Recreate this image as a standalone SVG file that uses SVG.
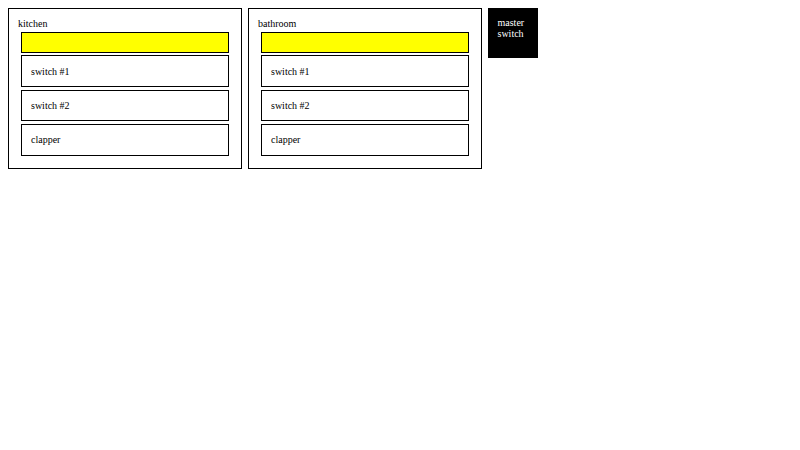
<svg xmlns="http://www.w3.org/2000/svg" width="800" height="450" viewBox="0 0 800 450">
<style>
.box{fill:#fff;stroke:#000;stroke-width:1}
.bar{fill:#ffff00;stroke:#000;stroke-width:1}
.t{font-family:"Liberation Serif","Times New Roman",serif;font-size:10px;fill:#000}
.w{font-family:"Liberation Serif","Times New Roman",serif;font-size:10px;fill:#fff}
</style>
<rect width="800" height="450" fill="#fff"/>
<g id="kitchen">
<rect class="box" x="8.5" y="8.5" width="233" height="160"/>
<text class="t" x="18" y="27">kitchen</text>
<rect class="bar" x="21.5" y="32.5" width="207" height="20"/>
<g id="kitchen-switch1"><rect class="box" x="21.5" y="55.5" width="207" height="31"/><text class="t" x="31" y="75">switch #1</text></g>
<g id="kitchen-switch2"><rect class="box" x="21.5" y="90.5" width="207" height="30"/><text class="t" x="31" y="109">switch #2</text></g>
<g id="kitchen-clapper"><rect class="box" x="21.5" y="124.5" width="207" height="31"/><text class="t" x="31" y="143">clapper</text></g>
</g>
<g id="bathroom">
<rect class="box" x="248.5" y="8.5" width="233" height="160"/>
<text class="t" x="258" y="27">bathroom</text>
<rect class="bar" x="261.5" y="32.5" width="207" height="20"/>
<g id="bathroom-switch1"><rect class="box" x="261.5" y="55.5" width="207" height="31"/><text class="t" x="271" y="75">switch #1</text></g>
<g id="bathroom-switch2"><rect class="box" x="261.5" y="90.5" width="207" height="30"/><text class="t" x="271" y="109">switch #2</text></g>
<g id="bathroom-clapper"><rect class="box" x="261.5" y="124.5" width="207" height="31"/><text class="t" x="271" y="143">clapper</text></g>
</g>
<g id="master">
<rect x="488" y="8" width="50" height="50" fill="#000"/>
<text class="w" x="497.5" y="26">master</text>
<text class="w" x="497.5" y="37">switch</text>
</g>
<g id="connectors"></g>
</svg>
